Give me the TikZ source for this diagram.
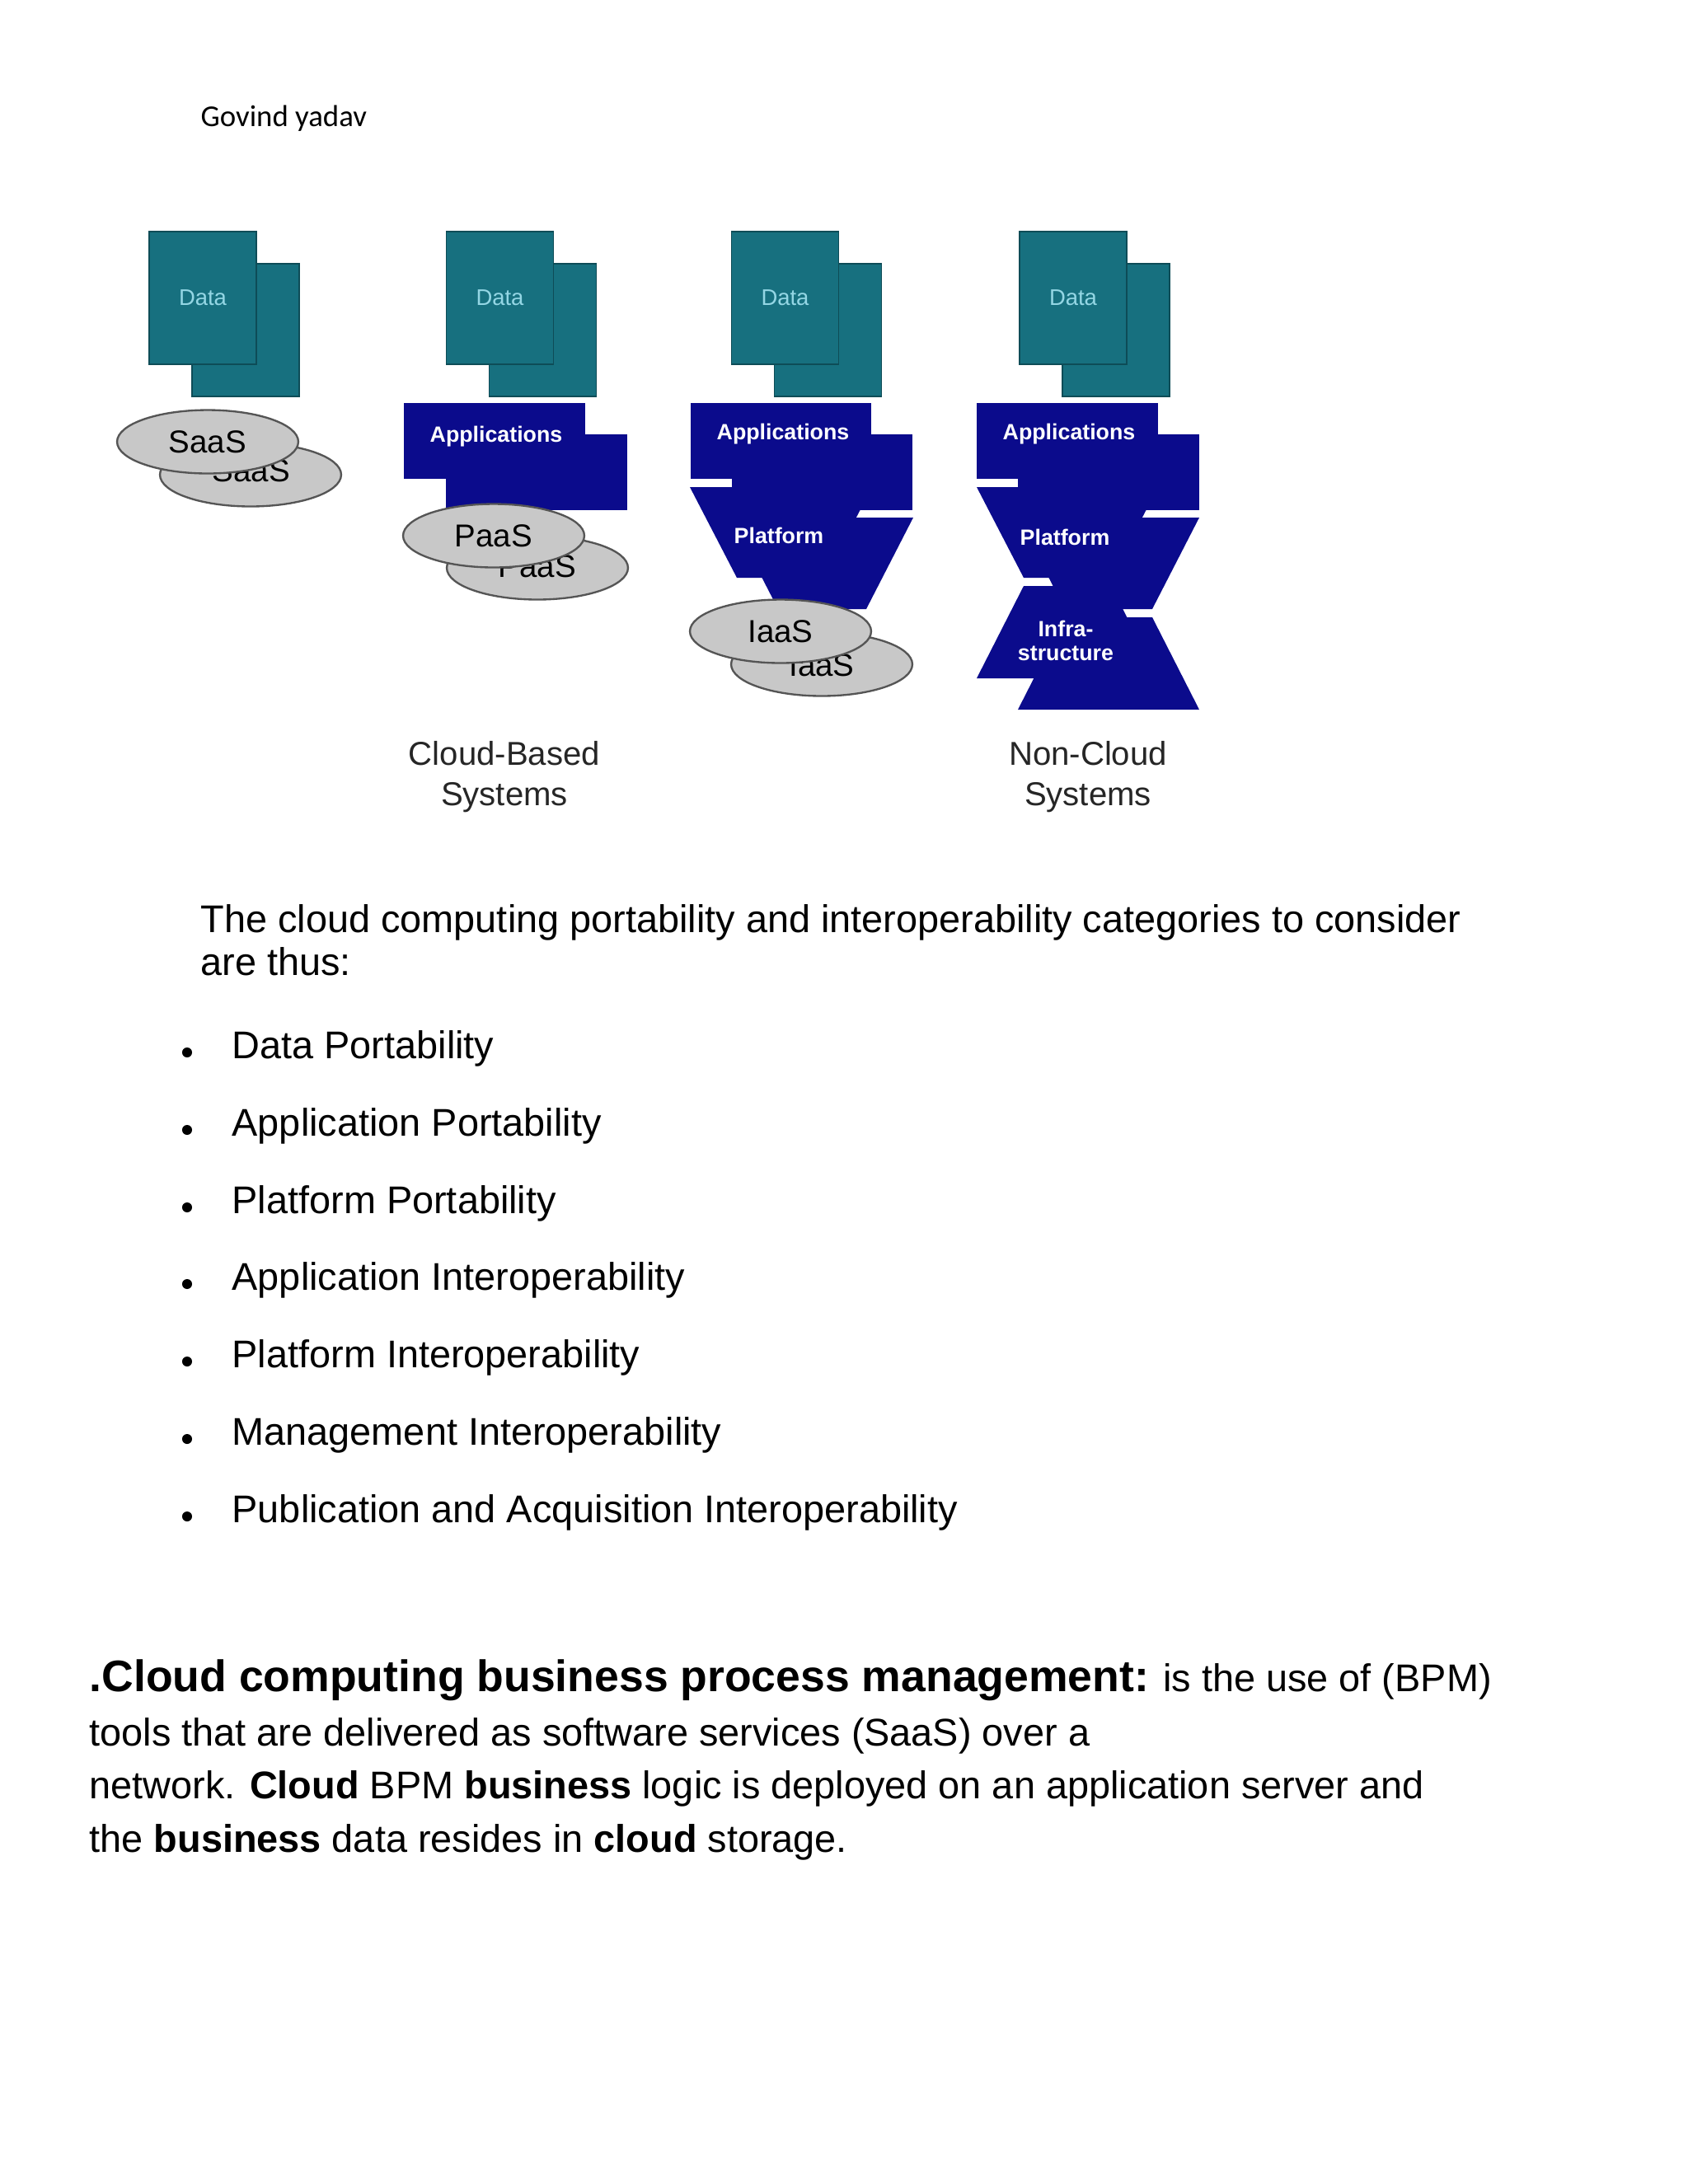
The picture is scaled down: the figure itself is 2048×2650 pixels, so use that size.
\documentclass[tikz,border=0pt]{standalone}
\usepackage{fontspec}
\setmainfont{Liberation Sans}
\newfontfamily\calibrifont{Carlito}
\usetikzlibrary{positioning, shapes.geometric}

\definecolor{datateal}{HTML}{17707F}
\definecolor{datarim}{HTML}{0E4C57}
\definecolor{datatext}{HTML}{94D6E4}
\definecolor{stacknavy}{HTML}{0B0B8C}
\definecolor{ovalgray}{HTML}{C8C8C8}
\definecolor{ovalrim}{HTML}{555555}
\definecolor{labelgray}{HTML}{262626}

\begin{document}
\begin{tikzpicture}[
    x=0.2988pt, y=-0.2988pt,
    datasheet/.style={rectangle, draw=datarim, fill=datateal, line width=0.4pt, minimum width=38.8pt, minimum height=48.1pt, inner sep=0pt, text=datatext, font=\fontsize{8.2}{9}\selectfont},
    appsheet/.style={rectangle, fill=stacknavy, minimum width=65.7pt, minimum height=27.5pt, inner sep=0pt},
    layertext/.style={text=white, inner sep=0pt, font=\bfseries\fontsize{8}{9}\selectfont},
    cloudoval/.style={ellipse, draw=ovalrim, fill=ovalgray, line width=0.7pt, minimum width=65.7pt, minimum height=23pt, inner sep=0pt, font=\fontsize{11.5}{12}\selectfont},
    ovaltext/.style={inner sep=0pt, font=\fontsize{11.5}{12}\selectfont},
    systemlabel/.style={anchor=base, text=labelgray, inner sep=0pt, font=\fontsize{12}{13.4}\selectfont},
    bodyline/.style={anchor=base west, inner sep=0pt, font=\fontsize{14}{16}\selectfont},
    leadline/.style={anchor=base west, inner sep=0pt, font=\bfseries\fontsize{16}{18}\selectfont},
    bulletdot/.style={circle, fill=black, inner sep=0pt, minimum size=3.6pt}
]

% Page
\fill[white] (0,0) rectangle (2048,2650);
\useasboundingbox (0,0) rectangle (2048,2650);

% Header
\node[anchor=base west, inner sep=0pt, font=\calibrifont\fontsize{11}{13}\selectfont] (author) at (243,153) {Govind yadav};

% Data sheets
\node[datasheet] (data1b) at (298,400.5) {};
\node[datasheet] (data1) at (246,361.5) {Data};
\node[datasheet] (data2b) at (658.5,400.5) {};
\node[datasheet] (data2) at (606.5,361.5) {Data};
\node[datasheet] (data3b) at (1004.5,400.5) {};
\node[datasheet] (data3) at (952.5,361.5) {Data};
\node[datasheet] (data4b) at (1354,400.5) {};
\node[datasheet] (data4) at (1302,361.5) {Data};

% Applications layer
\node[appsheet] (app2b) at (651,572.5) {};
\node[appsheet] (app2) at (600,534.5) {};
\node[appsheet] (app3b) at (997.5,572.5) {};
\node[appsheet] (app3) at (947.5,535) {};
\node[appsheet] (app4b) at (1345,572.5) {};
\node[appsheet] (app4) at (1295,535) {};

% Platform layer
\fill[stacknavy] (887,628) -- (1108,628) -- (1051,739) -- (944,739) -- cycle;
\fill[stacknavy] (837,591) -- (1058,591) -- (1001,701) -- (894,701) -- cycle;
\fill[stacknavy] (1235,628) -- (1455,628) -- (1398,739) -- (1292,739) -- cycle;
\fill[stacknavy] (1185,591) -- (1405,591) -- (1348,701) -- (1242,701) -- cycle;

% Infrastructure layer
\fill[stacknavy] (1292,749) -- (1398,749) -- (1455,861) -- (1235,861) -- cycle;
\fill[stacknavy] (1242,711) -- (1348,711) -- (1405,823) -- (1185,823) -- cycle;

% Layer texts
\node[layertext] (app2txt) at (602,530) {Applications};
\node[layertext] (app3txt) at (950,527) {Applications};
\node[layertext] (app4txt) at (1297,527) {Applications};
\node[layertext] (plat3txt) at (945,650) {Platform};
\node[layertext] (plat4txt) at (1292,652) {Platform};
\node[layertext] (infra4a) at (1293,763) {Infra-};
\node[layertext] (infra4b) at (1293,793) {structure};

% Service ovals
\node[cloudoval] (saasb) at (304,576) {};
\node[ovaltext] (saasbtxt) at (305,571) {SaaS};
\node[cloudoval] (saas) at (252,536) {SaaS};
\node[cloudoval] (paasb) at (652,689) {};
\node[ovaltext] (paasbtxt) at (652,687) {PaaS};
\node[cloudoval] (paas) at (599,650) {PaaS};
\node[cloudoval] (iaasb) at (997,806) {};
\node[ovaltext] (iaasbtxt) at (997,807) {IaaS};
\node[cloudoval] (iaas) at (947,766) {IaaS};

% System labels
\node[systemlabel] (cloudlbl) at (612,928) {Cloud-Based};
\node[systemlabel] (cloudlbl2) at (612,977) {Systems};
\node[systemlabel] (noncloudlbl) at (1320,928) {Non-Cloud};
\node[systemlabel] (noncloudlbl2) at (1320,977) {Systems};

% Intro paragraph
\node[bodyline] (intro1) at (243,1131) {The cloud computing portability and interoperability categories to consider};
\node[bodyline] (intro2) at (243,1183) {are thus:};

% Category list
\node[bulletdot] (dot1) at (227,1277) {};
\node[bodyline] (item1) at (281,1284) {Data Portability};
\node[bulletdot] (dot2) at (227,1371) {};
\node[bodyline] (item2) at (281,1378) {Application Portability};
\node[bulletdot] (dot3) at (227,1465) {};
\node[bodyline] (item3) at (281,1472) {Platform Portability};
\node[bulletdot] (dot4) at (227,1558) {};
\node[bodyline] (item4) at (281,1565) {Application Interoperability};
\node[bulletdot] (dot5) at (227,1652) {};
\node[bodyline] (item5) at (281,1659) {Platform Interoperability};
\node[bulletdot] (dot6) at (227,1746) {};
\node[bodyline] (item6) at (281,1753) {Management Interoperability};
\node[bulletdot] (dot7) at (227,1840) {};
\node[bodyline] (item7) at (281,1847) {Publication and Acquisition Interoperability};

% BPM paragraph
\node[leadline] (bpm1) at (108,2052) {.Cloud computing business process management:\mdseries\fontsize{14}{16}\selectfont{} is the use of (BPM)};
\node[bodyline] (bpm2) at (108,2118) {tools that are delivered as software services (SaaS) over a};
\node[bodyline] (bpm3) at (108,2182) {network. \textbf{Cloud} BPM \textbf{business} logic is deployed on an application server and};
\node[bodyline] (bpm4) at (108,2247) {the \textbf{business} data resides in \textbf{cloud} storage.};

\end{tikzpicture}
\end{document}
